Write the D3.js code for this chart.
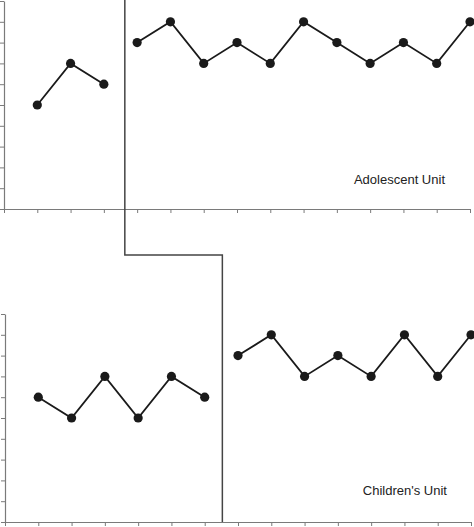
<!DOCTYPE html>
<html>
<head>
<meta charset="utf-8">
<script src="https://cdn.jsdelivr.net/npm/d3@7"></script>
<style>
  body { margin: 0; background: #fff; }
  svg { display: block; }
</style>
</head>
<body>
<script>
// Data (sessions on x, score 0-10 on y)
const adolescentBaselineSessions = [1, 2, 3];
const adolescentBaseline = [5, 7, 6];
const adolescentTreatSessions = [4, 5, 6, 7, 8, 9, 10, 11, 12, 13, 14];
const adolescentTreat = [8, 9, 7, 8, 7, 9, 8, 7, 8, 7, 9];

const childBaselineSessions = [1, 2, 3, 4, 5, 6];
const childBaseline = [6, 5, 7, 5, 7, 6];
const childTreatSessions = [7, 8, 9, 10, 11, 12, 13, 14];
const childTreat = [8, 9, 7, 8, 7, 9, 7, 9];

// where the phase change line sits (in session units)
const adolescentPhase = 3.63;
const childPhase = 6.53;

const sessionTicks = d3.range(0, 15);
const scoreTicks = d3.range(0, 11);

const width = 474, height = 527;

const svg = d3.select("body").append("svg")
    .attr("width", width)
    .attr("height", height);

// two panels, stacked
const panels = [
    {
        label: "Adolescent Unit",
        x: d3.scaleLinear().domain([0, 14]).range([4, 470]),
        y: d3.scaleLinear().domain([0, 10]).range([209, 1]),
        phases: [
            {s: adolescentBaselineSessions, v: adolescentBaseline},
            {s: adolescentTreatSessions, v: adolescentTreat}
        ],
        phase: adolescentPhase,
        labelX: 445, labelY: 184
    },
    {
        label: "Children's Unit",
        x: d3.scaleLinear().domain([0, 14]).range([5, 471]),
        y: d3.scaleLinear().domain([0, 10]).range([522, 314]),
        phases: [
            {s: childBaselineSessions, v: childBaseline},
            {s: childTreatSessions, v: childTreat}
        ],
        phase: childPhase,
        labelX: 447, labelY: 495
    }
];

const axisColor = "#7a7a7a";

panels.forEach(p => {
    const g = svg.append("g");

    const xAxis = d3.axisBottom(p.x)
        .tickValues(sessionTicks)
        .tickSize(4)
        .tickSizeOuter(0)
        .tickFormat("");
    const yAxis = d3.axisLeft(p.y)
        .tickValues(scoreTicks)
        .tickSize(4)
        .tickSizeOuter(0)
        .tickFormat("");

    const xg = g.append("g")
        .attr("transform", `translate(0,${p.y(0)})`)
        .call(xAxis);
    const yg = g.append("g")
        .attr("transform", `translate(${p.x(0)},0)`)
        .call(yAxis);

    [xg, yg].forEach(a => {
        a.select(".domain").attr("stroke", axisColor).attr("stroke-width", 1.2);
        a.selectAll(".tick line").attr("stroke", axisColor).attr("stroke-width", 1);
    });

    const line = d3.line()
        .x(d => p.x(d[0]))
        .y(d => p.y(d[1]));

    p.phases.forEach(ph => {
        const pts = ph.s.map((s, i) => [s, ph.v[i]]);
        g.append("path")
            .datum(pts)
            .attr("fill", "none")
            .attr("stroke", "#1a1a1a")
            .attr("stroke-width", 1.8)
            .attr("d", line);
        g.selectAll(null)
            .data(pts)
            .enter().append("circle")
            .attr("cx", d => p.x(d[0]))
            .attr("cy", d => p.y(d[1]))
            .attr("r", 4.6)
            .attr("fill", "#1a1a1a");
    });

    g.append("text")
        .attr("x", p.labelX)
        .attr("y", p.labelY)
        .attr("text-anchor", "end")
        .attr("font-family", "Liberation Sans, Arial, sans-serif")
        .attr("font-size", 13)
        .attr("fill", "#222")
        .text(p.label);
});

// stepped phase-change line running through both panels
const topPanel = panels[0], bottomPanel = panels[1];
const stepY = 255;
const phaseX1 = topPanel.x(topPanel.phase);
const phaseX2 = bottomPanel.x(bottomPanel.phase);
svg.append("path")
    .attr("fill", "none")
    .attr("stroke", "#444")
    .attr("stroke-width", 1.5)
    .attr("d", d3.line()([
        [phaseX1, 0],
        [phaseX1, stepY],
        [phaseX2, stepY],
        [phaseX2, bottomPanel.y(0)]
    ]));
</script>
</body>
</html>
